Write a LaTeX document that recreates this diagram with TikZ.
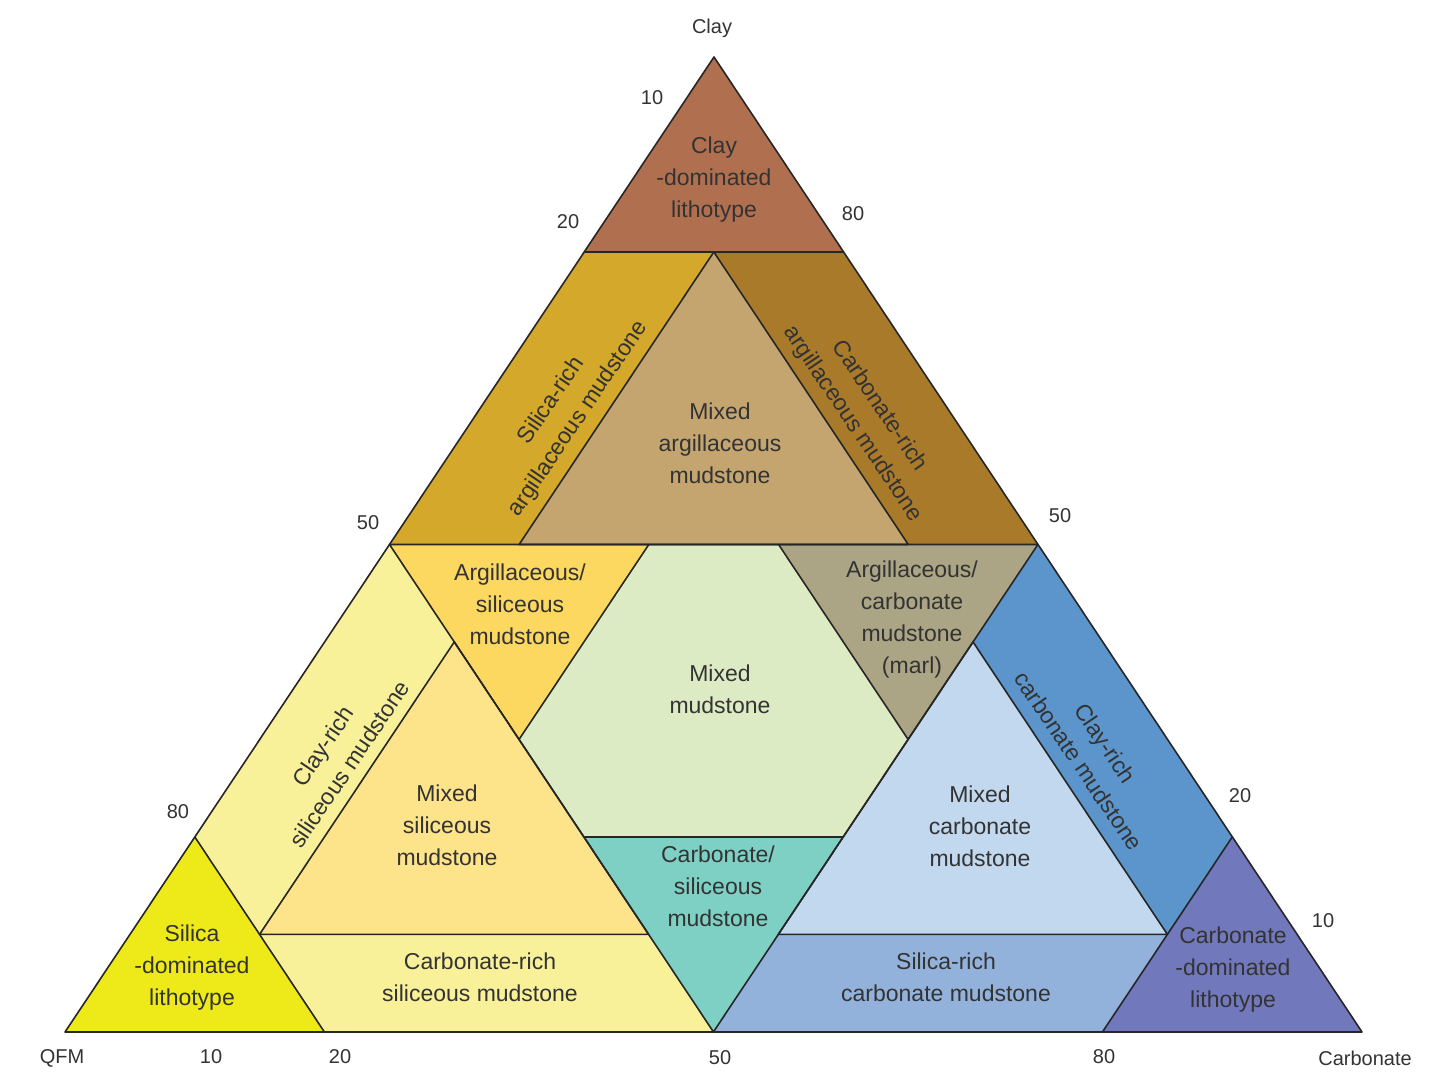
\documentclass[tikz,border=0pt]{standalone}
\usepackage{fontspec}
\setmainfont{Liberation Sans}
\usetikzlibrary{positioning}
\definecolor{txt}{HTML}{333333}
\tikzset{
  zone/.style={draw=black!85,line width=1.6pt,line join=round},
  lbl/.style={align=center,text=txt,font=\fontsize{23}{32}\selectfont},
  num/.style={text=txt,font=\fontsize{20}{24}\selectfont}
}
\begin{document}
\begin{tikzpicture}[x=1pt,y=-1pt]
  \useasboundingbox (0,0) rectangle (1442,1083);
  \coordinate (L) at (65,1032);
  \coordinate (R) at (1362,1032);
  \coordinate (T) at (714,57);
  % a = QFM, b = carbonate, c = clay
  \newcommand{\tp}[3]{(barycentric cs:L=#1,R=#2,T=#3)}
  % clay corner
  \fill[fill={rgb,255:red,176;green,112;blue,80}] (T) -- \tp{2}{0}{8} -- \tp{0}{2}{8} -- cycle;
  \fill[fill={rgb,255:red,212;green,168;blue,42}] \tp{2}{0}{8} -- \tp{1}{1}{8} -- \tp{4}{1}{5} -- \tp{5}{0}{5} -- cycle;
  \fill[fill={rgb,255:red,196;green,165;blue,112}] \tp{1}{1}{8} -- \tp{4}{1}{5} -- \tp{1}{4}{5} -- cycle;
  \fill[fill={rgb,255:red,168;green,122;blue,42}] \tp{0}{2}{8} -- \tp{1}{1}{8} -- \tp{1}{4}{5} -- \tp{0}{5}{5} -- cycle;
  % middle
  \fill[fill={rgb,255:red,252;green,216;blue,96}] \tp{5}{0}{5} -- \tp{3}{2}{5} -- \tp{5}{2}{3} -- cycle;
  \fill[fill={rgb,255:red,171;green,165;blue,133}] \tp{0}{5}{5} -- \tp{2}{3}{5} -- \tp{2}{5}{3} -- cycle;
  \fill[fill={rgb,255:red,127;green,208;blue,196}] \tp{5}{5}{0} -- \tp{5}{3}{2} -- \tp{3}{5}{2} -- cycle;
  \fill[fill={rgb,255:red,221;green,235;blue,196}] \tp{3}{2}{5} -- \tp{2}{3}{5} -- \tp{2}{5}{3} -- \tp{3}{5}{2} -- \tp{5}{3}{2} -- \tp{5}{2}{3} -- cycle;
  % QFM corner
  \fill[fill={rgb,255:red,238;green,234;blue,26}] (L) -- \tp{8}{2}{0} -- \tp{8}{0}{2} -- cycle;
  \fill[fill={rgb,255:red,249;green,241;blue,154}] \tp{8}{0}{2} -- \tp{5}{0}{5} -- \tp{5}{1}{4} -- \tp{8}{1}{1} -- cycle;
  \fill[fill={rgb,255:red,249;green,241;blue,154}] \tp{8}{2}{0} -- \tp{5}{5}{0} -- \tp{5}{4}{1} -- \tp{8}{1}{1} -- cycle;
  \fill[fill={rgb,255:red,253;green,227;blue,138}] \tp{8}{1}{1} -- \tp{5}{4}{1} -- \tp{5}{1}{4} -- cycle;
  % carbonate corner
  \fill[fill={rgb,255:red,113;green,120;blue,188}] (R) -- \tp{2}{8}{0} -- \tp{0}{8}{2} -- cycle;
  \fill[fill={rgb,255:red,91;green,149;blue,204}] \tp{0}{8}{2} -- \tp{0}{5}{5} -- \tp{1}{5}{4} -- \tp{1}{8}{1} -- cycle;
  \fill[fill={rgb,255:red,147;green,178;blue,219}] \tp{2}{8}{0} -- \tp{5}{5}{0} -- \tp{4}{5}{1} -- \tp{1}{8}{1} -- cycle;
  \fill[fill={rgb,255:red,194;green,216;blue,238}] \tp{1}{8}{1} -- \tp{4}{5}{1} -- \tp{1}{5}{4} -- cycle;
  % boundaries
  \draw[zone] (L) -- (R) -- (T) -- cycle;
  \draw[zone] \tp{2}{0}{8} -- \tp{0}{2}{8};
  \draw[zone] \tp{5}{0}{5} -- \tp{0}{5}{5};
  \draw[zone] \tp{8}{0}{2} -- \tp{8}{2}{0};
  \draw[zone] \tp{0}{8}{2} -- \tp{2}{8}{0};
  \draw[zone] \tp{1}{1}{8} -- \tp{4}{1}{5} -- \tp{1}{4}{5} -- cycle;
  \draw[zone] \tp{8}{1}{1} -- \tp{5}{4}{1} -- \tp{5}{1}{4} -- cycle;
  \draw[zone] \tp{1}{8}{1} -- \tp{4}{5}{1} -- \tp{1}{5}{4} -- cycle;
  \draw[zone] \tp{5}{0}{5} -- \tp{5}{5}{0} -- \tp{0}{5}{5} -- cycle;
  \draw[zone] \tp{5}{2}{3} -- \tp{3}{2}{5};
  \draw[zone] \tp{2}{3}{5} -- \tp{2}{5}{3};
  \draw[zone] \tp{5}{3}{2} -- \tp{3}{5}{2};
  % region labels
  \node[lbl] (claydom) at (714,180) {Clay\\-dominated\\lithotype};
  \node[lbl,rotate=56] (sirarg) at (565,410) {Silica-rich\\argillaceous mudstone};
  \node[lbl] (mixarg) at (720,443) {Mixed\\argillaceous\\mudstone};
  \node[lbl,rotate=-56] (carrarg) at (866,415) {Carbonate-rich\\argillaceous mudstone};
  \node[lbl] (argsil) at (520,604) {Argillaceous/\\siliceous\\mudstone};
  \node[lbl] (mixmud) at (720,689) {Mixed\\mudstone};
  \node[lbl] (argcar) at (912,620) {Argillaceous/\\carbonate\\mudstone\\(marl)};
  \node[lbl,rotate=56] (clrsil) at (336,755) {Clay-rich\\siliceous mudstone};
  \node[lbl] (mixsil) at (447,825) {Mixed\\siliceous\\mudstone};
  \node[lbl] (sildom) at (192,968) {Silica\\-dominated\\lithotype};
  \node[lbl] (carsil) at (480,977) {Carbonate-rich\\siliceous mudstone};
  \node[lbl] (carbsil) at (718,886) {Carbonate/\\siliceous\\mudstone};
  \node[lbl] (mixcar) at (980,826) {Mixed\\carbonate\\mudstone};
  \node[lbl,rotate=-56] (clrcar) at (1092,752) {Clay-rich\\carbonate mudstone};
  \node[lbl] (sircar) at (946,977) {Silica-rich\\carbonate mudstone};
  \node[lbl] (cardom) at (1233,970) {Carbonate\\-dominated\\lithotype};
  % end members and ticks
  \node[num] (clay) at (712,28) {Clay};
  \node[num] (qfm) at (62,1058) {QFM};
  \node[num] (carb) at (1365,1058) {Carbonate};
  \node[num] at (652,98) {10};
  \node[num] at (568,222) {20};
  \node[num] at (368,523) {50};
  \node[num] at (178,812) {80};
  \node[num] at (853,214) {80};
  \node[num] at (1060,516) {50};
  \node[num] at (1240,796) {20};
  \node[num] at (1323,921) {10};
  \node[num] at (211,1057) {10};
  \node[num] at (340,1057) {20};
  \node[num] at (720,1058) {50};
  \node[num] at (1104,1057) {80};
\end{tikzpicture}
\end{document}
